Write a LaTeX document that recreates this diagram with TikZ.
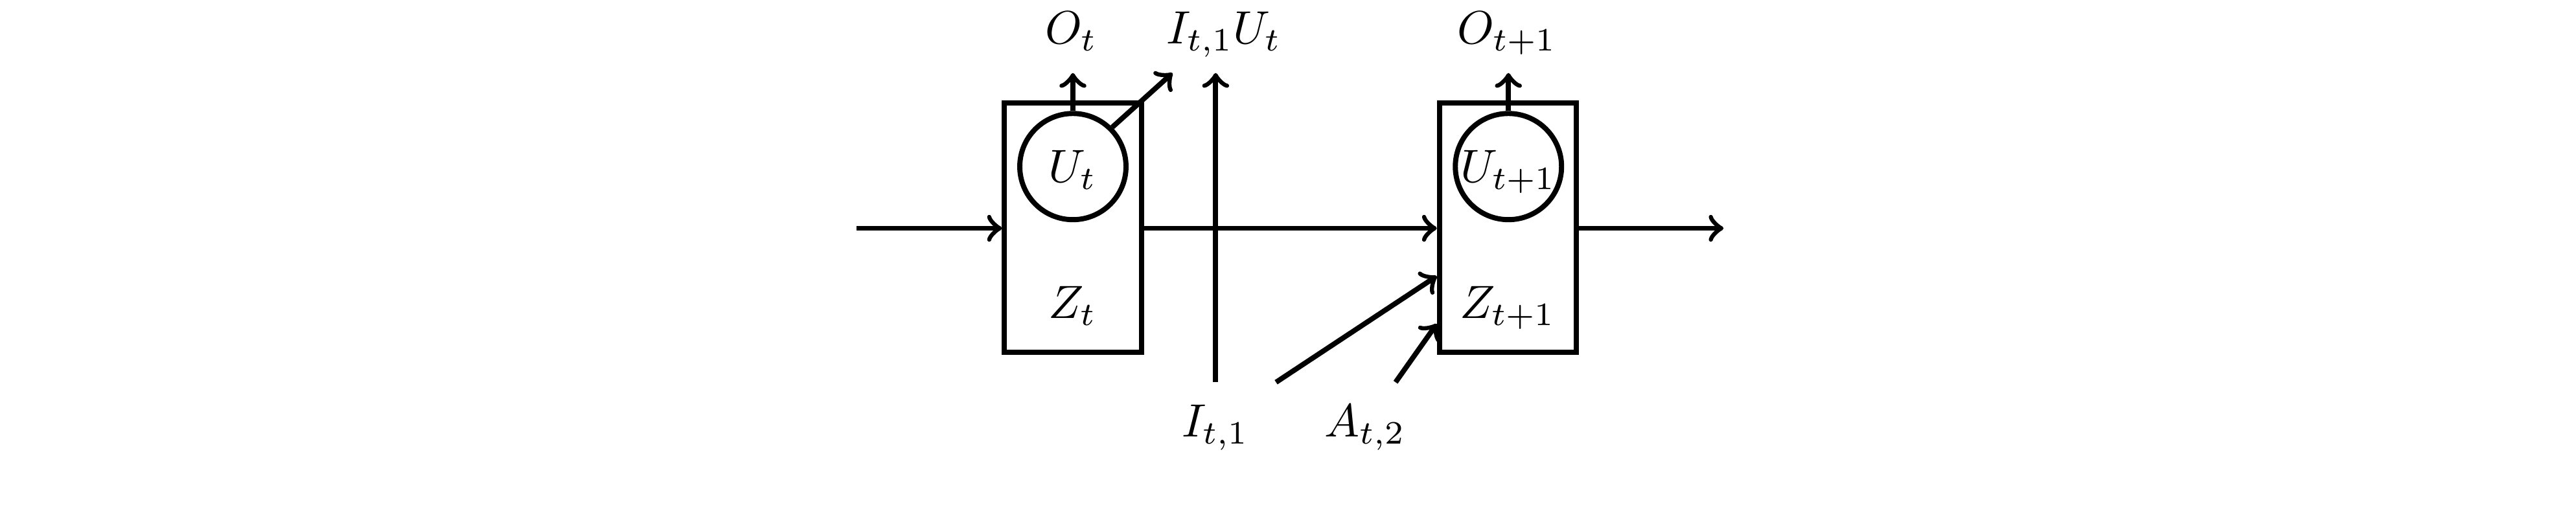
\documentclass[tikz,border=0pt]{standalone}
\usetikzlibrary{arrows,positioning}
\begin{document}
\begin{tikzpicture}[->,>=to,line width=1.1pt]
	\tikzstyle{block}=[draw,rectangle,minimum width=1.03cm,minimum height=1.88cm,inner sep=0pt]
	\tikzstyle{unit}=[draw,circle,minimum size=0.80cm,inner sep=0pt]
	\tikzstyle{lab}=[anchor=base,inner sep=0pt]
	\useasboundingbox (0,0) rectangle (19.40,4.00);

	\node[block] (Z1) at (8.08,2.285) {};
	\node[block] (Z2) at (11.355,2.285) {};
	\node[unit] (U1) at (8.08,2.745) {};
	\node[unit] (U2) at (11.36,2.745) {};

	\node[lab] (u1) at (8.08,2.625) {$U_t$};
	\node[lab] (u2) at (11.36,2.625) {$U_{t+1}$};
	\node[lab] (z1) at (8.08,1.60) {$Z_t$};
	\node[lab] (z2) at (11.355,1.60) {$Z_{t+1}$};
	\node[lab] (O1) at (8.07,3.67) {$O_t$};
	\node[lab] (IU) at (9.22,3.67) {$I_{t,1}U_t$};
	\node[lab] (O2) at (11.35,3.67) {$O_{t+1}$};
	\node[lab] (I1) at (9.155,0.71) {$I_{t,1}$};
	\node[lab] (A2) at (10.28,0.71) {$A_{t,2}$};

	\coordinate (in) at (6.45,2.28);
	\coordinate (out) at (12.98,2.28);
	\coordinate (o1) at (8.08,3.45);
	\coordinate (o2) at (11.36,3.45);
	\coordinate (iu) at (8.83,3.45);
	\coordinate (ia) at (9.155,1.12);
	\coordinate (ib) at (9.155,3.45);
	\coordinate (da) at (9.61,1.12);
	\coordinate (aa) at (10.51,1.12);

	\draw (in) -- (Z1.west |- in);
	\draw (Z1.east |- in) -- (Z2.west |- in);
	\draw (Z2.east |- out) -- (out);
	\draw (U1.north) -- (o1);
	\draw (U2.north) -- (o2);
	\draw (U1.north east) -- (iu);
	\draw (ia) -- (ib);
	\draw (da) -- (Z2.west |- 0,1.92);
	\draw (aa) -- (Z2.west |- 0,1.56);
\end{tikzpicture}
\end{document}
